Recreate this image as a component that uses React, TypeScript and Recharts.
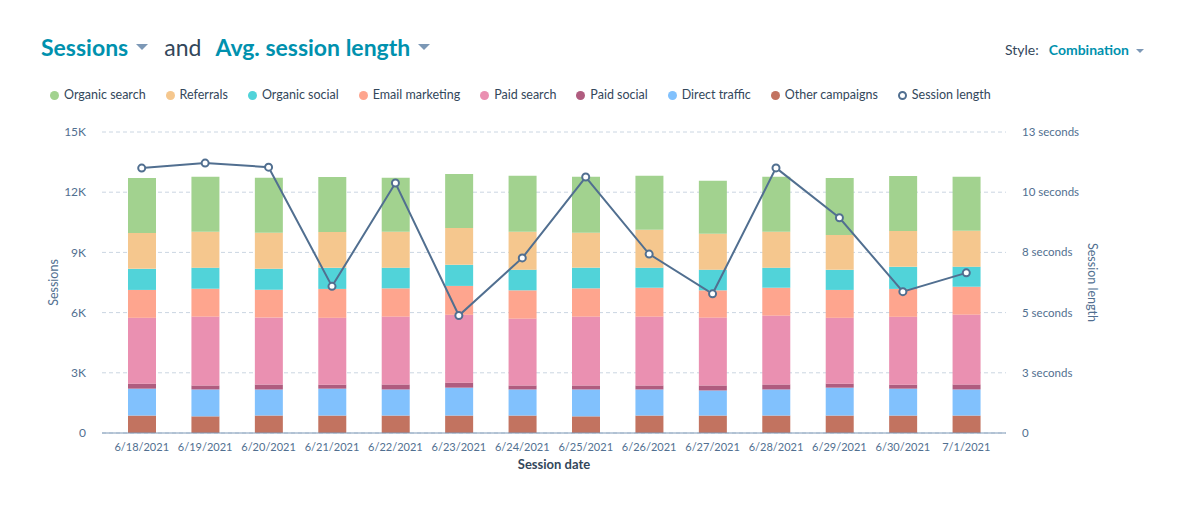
import React from "react";
import {
  ComposedChart,
  Bar,
  Line,
  XAxis,
  YAxis,
  CartesianGrid,
  Label,
} from "recharts";

const dates = [
  "6/18/2021", "6/19/2021", "6/20/2021", "6/21/2021", "6/22/2021", "6/23/2021", "6/24/2021",
  "6/25/2021", "6/26/2021", "6/27/2021", "6/28/2021", "6/29/2021", "6/30/2021", "7/1/2021",
];

const otherCampaigns = [870, 830, 870, 870, 870, 870, 870, 830, 870, 870, 870, 870, 870, 870];
const directTraffic = [1340, 1340, 1300, 1340, 1300, 1390, 1300, 1340, 1300, 1250, 1300, 1390, 1340, 1300];
const paidSocial = [250, 200, 250, 200, 250, 250, 200, 200, 200, 250, 250, 200, 200, 250];
const paidSearch = [3280, 3430, 3330, 3330, 3380, 3380, 3330, 3430, 3430, 3380, 3430, 3280, 3380, 3480];
const emailMarketing = [1390, 1390, 1390, 1440, 1410, 1440, 1410, 1410, 1440, 1360, 1390, 1390, 1390, 1390];
const organicSocial = [1050, 1050, 1050, 1050, 1030, 1050, 1030, 1030, 1000, 1030, 1000, 1000, 1100, 1000];
const referrals = [1790, 1790, 1790, 1790, 1790, 1840, 1890, 1740, 1890, 1790, 1790, 1740, 1790, 1790];
const organicSearch = [2740, 2740, 2740, 2740, 2690, 2690, 2790, 2790, 2690, 2640, 2740, 2840, 2740, 2690];
const sessionLength = [11.0, 11.21, 11.04, 6.09, 10.38, 4.88, 7.27, 10.63, 7.43, 5.78, 11.01, 8.94, 5.87, 6.65];

const sessionTicks = [0, 3000, 6000, 9000, 12000, 15000];
const lengthTicks = [0, 2.5, 5, 7.5, 10, 12.5];

const series = [
  { key: "otherCampaigns", name: "Other campaigns", color: "#c27360", values: otherCampaigns },
  { key: "directTraffic", name: "Direct traffic", color: "#81c1fd", values: directTraffic },
  { key: "paidSocial", name: "Paid social", color: "#b05c7f", values: paidSocial },
  { key: "paidSearch", name: "Paid search", color: "#ea90b1", values: paidSearch },
  { key: "emailMarketing", name: "Email marketing", color: "#fea58e", values: emailMarketing },
  { key: "organicSocial", name: "Organic social", color: "#51d3d9", values: organicSocial },
  { key: "referrals", name: "Referrals", color: "#f5c78e", values: referrals },
  { key: "organicSearch", name: "Organic search", color: "#a2d28f", values: organicSearch },
];

const data = dates.map((date, i) => {
  const row: Record<string, number | string> = { date, sessionLength: sessionLength[i] };
  series.forEach((s) => (row[s.key] = s.values[i]));
  return row;
});

const FONT = "Lato, 'Noto Sans', sans-serif";
const TEAL = "#0091ae";
const DARK = "#33475b";
const SLATE = "#516f90";

const Caret = () => (
  <span
    style={{
      display: "inline-block",
      width: 0,
      height: 0,
      borderLeft: "6px solid transparent",
      borderRight: "6px solid transparent",
      borderTop: "6px solid #7c98b6",
      marginLeft: 8,
      verticalAlign: "middle",
      position: "relative",
      top: -3,
    }}
  />
);

const SideLabel = (props: any) => {
  const { viewBox, value, side } = props;
  const { x, y, width, height } = viewBox;
  const cx = side === "left" ? x + 11 : x + 86;
  const cy = y + height / 2;
  return (
    <text
      x={cx}
      y={cy}
      transform={`rotate(${side === "left" ? -90 : 90} ${cx} ${cy})`}
      textAnchor="middle"
      dominantBaseline="central"
      fill={SLATE}
      fontSize={12.5}
      fontFamily={FONT}
    >
      {value}
    </text>
  );
};

const legendItems = [...series].reverse();

const App: React.FC = () => {
  return (
    <div style={{ position: "relative", width: 1186, height: 519, fontFamily: FONT, background: "#fff" }}>
      <style>{`body{margin:0}`}</style>
      <ComposedChart
        width={1186}
        height={519}
        data={data}
        margin={{ top: 132, right: 80, left: 42, bottom: 56 }}
        style={{ position: "absolute", left: 0, top: 0 }}
      >
        <CartesianGrid vertical={false} stroke="#cbd6e2" strokeDasharray="4 3" yAxisId="left" />
        <XAxis
          dataKey="date"
          padding={{ left: 8, right: 8 }}
          tickLine={false}
          tickSize={0}
          tickMargin={10}
          height={30}
          axisLine={{ stroke: "#7c98b6" }}
          tick={{ fill: SLATE, fontSize: 11, fontFamily: FONT }}
          interval={0}
        >
          <Label
            value="Session date"
            position="bottom"
            offset={-3}
            fill={DARK}
            fontSize={13}
            fontWeight={700}
            fontFamily={FONT}
          />
        </XAxis>
        <YAxis
          yAxisId="left"
          width={60}
          domain={[0, 15000]}
          ticks={sessionTicks}
          tickLine={false}
          axisLine={false}
          tickSize={0}
          tickMargin={16}
          tick={{ fill: SLATE, fontSize: 12, fontFamily: FONT }}
          tickFormatter={(v: number) => (v === 0 ? "0" : `${v / 1000}K`)}
        >
          <Label value="Sessions" content={<SideLabel side="left" />} />
        </YAxis>
        <YAxis
          yAxisId="right"
          orientation="right"
          width={100}
          domain={[0, 12.5]}
          ticks={lengthTicks}
          tickLine={false}
          axisLine={false}
          tickSize={0}
          tickMargin={16}
          tick={{ fill: SLATE, fontSize: 11.5, fontFamily: FONT }}
          tickFormatter={(v: number) => (v === 0 ? "0" : `${Math.round(v)} seconds`)}
        >
          <Label value="Session length" content={<SideLabel side="right" />} />
        </YAxis>
        {series.map((s) => (
          <Bar
            key={s.key}
            yAxisId="left"
            dataKey={s.key}
            name={s.name}
            stackId="sessions"
            fill={s.color}
            barSize={28}
            isAnimationActive={false}
          />
        ))}
        <Line
          yAxisId="right"
          type="linear"
          dataKey="sessionLength"
          name="Session length"
          stroke={SLATE}
          strokeWidth={2}
          dot={{ r: 3.5, fill: "#fff", stroke: SLATE, strokeWidth: 2 }}
          isAnimationActive={false}
        />
      </ComposedChart>

      <div
        style={{
          position: "absolute",
          left: 41,
          top: 32,
          fontSize: 23,
          lineHeight: "30px",
          whiteSpace: "nowrap",
        }}
      >
        <span style={{ color: TEAL, fontWeight: 700 }}>Sessions</span>
        <Caret />
        <span style={{ color: DARK, marginLeft: 16, marginRight: 14 }}>and</span>
        <span style={{ color: TEAL, fontWeight: 700 }}>Avg. session length</span>
        <Caret />
      </div>

      <div
        style={{
          position: "absolute",
          right: 42,
          top: 40,
          fontSize: 14,
          lineHeight: "20px",
          whiteSpace: "nowrap",
        }}
      >
        <span style={{ color: DARK }}>Style:</span>
        <span style={{ color: TEAL, fontWeight: 700, marginLeft: 10 }}>Combination</span>
        <span
          style={{
            display: "inline-block",
            width: 0,
            height: 0,
            borderLeft: "4px solid transparent",
            borderRight: "4px solid transparent",
            borderTop: "4px solid #7c98b6",
            marginLeft: 7,
            verticalAlign: "middle",
          }}
        />
      </div>

      <div
        style={{
          position: "absolute",
          left: 50,
          top: 86,
          display: "flex",
          alignItems: "center",
          fontSize: 12.5,
          lineHeight: "18px",
          color: DARK,
          whiteSpace: "nowrap",
        }}
      >
        {legendItems.map((s) => (
          <span key={s.key} style={{ display: "flex", alignItems: "center", marginRight: 20 }}>
            <span
              style={{
                width: 9,
                height: 9,
                borderRadius: "50%",
                background: s.color,
                marginRight: 5,
              }}
            />
            {s.name}
          </span>
        ))}
        <span style={{ display: "flex", alignItems: "center" }}>
          <span
            style={{
              width: 5,
              height: 5,
              borderRadius: "50%",
              border: `2px solid ${SLATE}`,
              background: "#fff",
              marginRight: 5,
            }}
          />
          Session length
        </span>
      </div>
    </div>
  );
};

export default App;
